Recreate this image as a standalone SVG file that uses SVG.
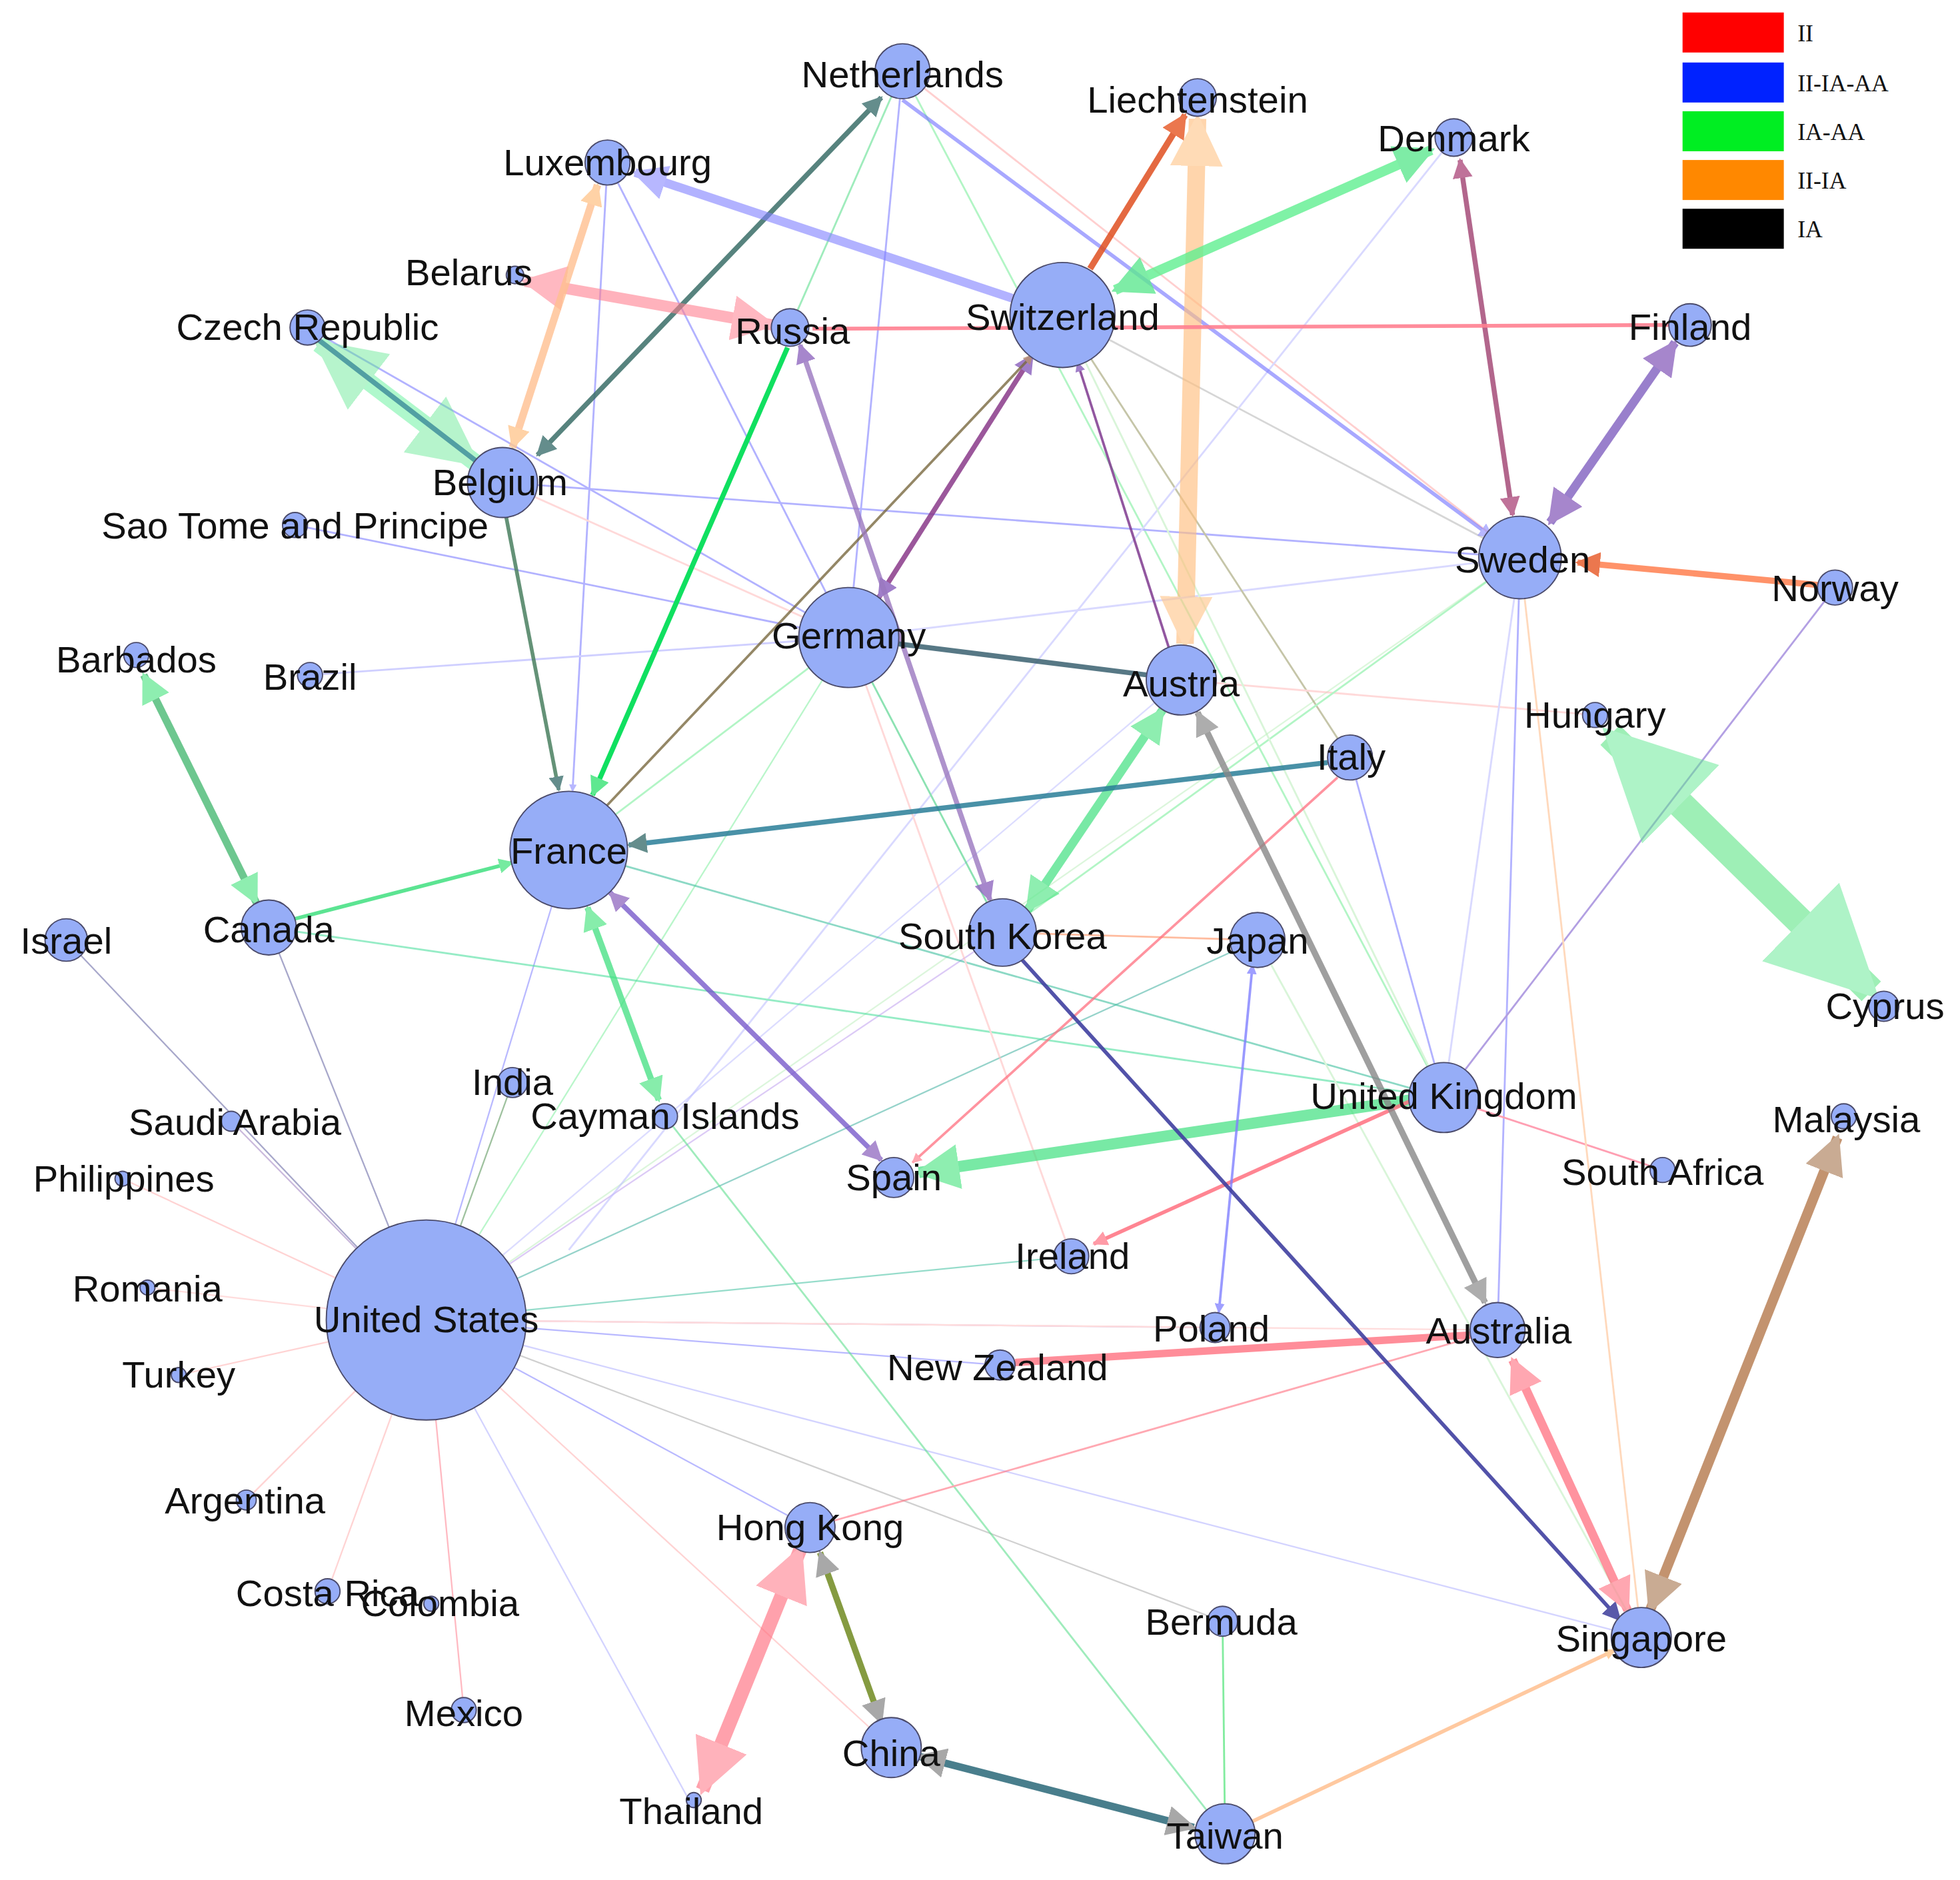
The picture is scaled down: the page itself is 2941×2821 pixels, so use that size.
<svg xmlns="http://www.w3.org/2000/svg" width="2941" height="2821" viewBox="0 0 2941 2821">
<style>
.n{fill:#96adf7;stroke:#4a4a6a;stroke-width:1}
.t{font-family:"Liberation Sans",Arial,sans-serif;font-size:30px;fill:#111;text-anchor:middle}
.lg{font-family:"Liberation Serif",serif;font-size:19px;fill:#111}
.e{fill:none}
</style>
<defs>
<marker id="mTeal" viewBox="0 0 10 10" refX="9" refY="5" markerWidth="4" markerHeight="4" orient="auto-start-reverse"><path d="M0,0L10,5L0,10z" fill="#4a7a78"/></marker>
<marker id="mBlue" viewBox="0 0 10 10" refX="9" refY="5" markerWidth="4" markerHeight="4" orient="auto-start-reverse"><path d="M0,0L10,5L0,10z" fill="#8888ff"/></marker>
<marker id="mOr" viewBox="0 0 10 10" refX="9" refY="5" markerWidth="4" markerHeight="4" orient="auto-start-reverse"><path d="M0,0L10,5L0,10z" fill="#e86030"/></marker>
<marker id="mPe" viewBox="0 0 10 10" refX="9" refY="5" markerWidth="3" markerHeight="3" orient="auto-start-reverse"><path d="M0,0L10,5L0,10z" fill="#ffc890"/></marker>
<marker id="mGr" viewBox="0 0 10 10" refX="9" refY="5" markerWidth="4" markerHeight="4" orient="auto-start-reverse"><path d="M0,0L10,5L0,10z" fill="#5fe890"/></marker>
<marker id="mPu" viewBox="0 0 10 10" refX="9" refY="5" markerWidth="4" markerHeight="4" orient="auto-start-reverse"><path d="M0,0L10,5L0,10z" fill="#9068c0"/></marker>
<marker id="mPk" viewBox="0 0 10 10" refX="9" refY="5" markerWidth="4" markerHeight="4" orient="auto-start-reverse"><path d="M0,0L10,5L0,10z" fill="#ff8a98"/></marker>
<marker id="mBr" viewBox="0 0 10 10" refX="9" refY="5" markerWidth="4" markerHeight="4" orient="auto-start-reverse"><path d="M0,0L10,5L0,10z" fill="#b89070"/></marker>
<marker id="mGy" viewBox="0 0 10 10" refX="9" refY="5" markerWidth="4" markerHeight="4" orient="auto-start-reverse"><path d="M0,0L10,5L0,10z" fill="#999"/></marker>
<marker id="mDb" viewBox="0 0 10 10" refX="9" refY="5" markerWidth="5" markerHeight="5" orient="auto-start-reverse"><path d="M0,0L10,5L0,10z" fill="#4848a0"/></marker>
<marker id="mPr" viewBox="0 0 10 10" refX="9" refY="5" markerWidth="4" markerHeight="4" orient="auto-start-reverse"><path d="M0,0L10,5L0,10z" fill="#b05080"/></marker>
</defs>
<rect width="2941" height="2821" fill="#fff"/>
<g transform="scale(1.8757)">
<g id="connectors" class="e">
<g stroke-width="1.2" opacity="0.55">
<line x1="341" y1="1056" x2="53" y2="752" stroke="#6060a0"/>
<line x1="341" y1="1056" x2="215" y2="742" stroke="#6060a0"/>
<line x1="341" y1="1056" x2="410" y2="866" stroke="#509050"/>
<line x1="341" y1="1056" x2="185" y2="897" stroke="#a080c0"/>
<line x1="341" y1="1056" x2="98" y2="943" stroke="#ffb0b0"/>
<line x1="341" y1="1056" x2="118" y2="1030" stroke="#ffc0c0"/>
<line x1="341" y1="1056" x2="143" y2="1100" stroke="#ffb0b0"/>
<line x1="341" y1="1056" x2="197" y2="1200" stroke="#ffb0b0"/>
<line x1="341" y1="1056" x2="262" y2="1273" stroke="#ffb0b0"/>
<line x1="341" y1="1056" x2="371" y2="1368" stroke="#ff8090"/>
<line x1="341" y1="1056" x2="555" y2="1447" stroke="#b0b0ff"/>
<line x1="341" y1="1056" x2="648" y2="1222" stroke="#8080ff"/>
<line x1="341" y1="1056" x2="713" y2="1398" stroke="#ffb0b0"/>
<line x1="341" y1="1056" x2="978" y2="1297" stroke="#aaa"/>
<line x1="341" y1="1056" x2="1313" y2="1310" stroke="#b0b0ff"/>
<line x1="341" y1="1056" x2="800" y2="1092" stroke="#8080ff"/>
<line x1="341" y1="1056" x2="972" y2="1062" stroke="#c080c0"/>
<line x1="341" y1="1056" x2="857" y2="1005" stroke="#40c0a0"/>
<line x1="341" y1="1056" x2="1006" y2="752" stroke="#40b0a0"/>
<line x1="341" y1="1056" x2="802" y2="746" stroke="#c0a0f0"/>
<line x1="341" y1="1056" x2="679" y2="510" stroke="#80f0a0"/>
<line x1="341" y1="1056" x2="945" y2="544" stroke="#c0c0ff"/>
<line x1="341" y1="1056" x2="1216" y2="446" stroke="#c0f0c0"/>
<line x1="341" y1="1056" x2="455" y2="680" stroke="#8080ff"/>
<line x1="341" y1="1056" x2="1198" y2="1064" stroke="#ffc0c0"/>
</g>
<g stroke-width="1.5" opacity="0.6">
<line x1="486" y1="130" x2="458" y2="633" stroke="#8080ff" marker-end="url(#mBlue)"/>
<line x1="486" y1="130" x2="679" y2="510" stroke="#8080ff"/>
<line x1="722" y1="57" x2="679" y2="510" stroke="#8080ff"/>
<line x1="722" y1="57" x2="632" y2="262" stroke="#60e090"/>
<line x1="722" y1="57" x2="1216" y2="446" stroke="#ffb0b0"/>
<line x1="722" y1="57" x2="1155" y2="878" stroke="#80f0a0"/>
<line x1="246" y1="262" x2="679" y2="510" stroke="#8080ff"/>
<line x1="236" y1="420" x2="679" y2="510" stroke="#8080ff"/>
<line x1="248" y1="540" x2="679" y2="510" stroke="#b0b0ff"/>
<line x1="402" y1="386" x2="1216" y2="446" stroke="#8080ff"/>
<line x1="679" y1="510" x2="1216" y2="446" stroke="#c0c0ff"/>
<line x1="850" y1="252" x2="1216" y2="446" stroke="#bbb"/>
<line x1="850" y1="252" x2="1080" y2="606" stroke="#a0a070"/>
<line x1="1163" y1="110" x2="455" y2="1000" stroke="#c0c0ff"/>
<line x1="402" y1="386" x2="679" y2="510" stroke="#ffc0c0"/>
<line x1="945" y1="544" x2="1276" y2="572" stroke="#ffc0c0"/>
<line x1="215" y1="742" x2="1155" y2="878" stroke="#50e0a0"/>
<line x1="455" y1="680" x2="1155" y2="878" stroke="#40c0a0"/>
<line x1="802" y1="746" x2="1006" y2="752" stroke="#ff9060"/>
<line x1="1216" y1="446" x2="1198" y2="1064" stroke="#8080ff" marker-end="url(#mBlue)"/>
<line x1="1216" y1="446" x2="1155" y2="878" stroke="#c0c0ff"/>
<line x1="1216" y1="446" x2="802" y2="746" stroke="#80f0a0"/>
<line x1="1155" y1="878" x2="1468" y2="470" stroke="#8060d0"/>
<line x1="1155" y1="878" x2="1330" y2="936" stroke="#ff6080"/>
<line x1="1080" y1="606" x2="1155" y2="878" stroke="#8080ff"/>
<line x1="532" y1="893" x2="980" y2="1467" stroke="#60e090"/>
<line x1="978" y1="1297" x2="980" y2="1467" stroke="#30e060" marker-start="url(#mGr)"/>
<line x1="1006" y1="752" x2="1313" y2="1310" stroke="#c0f0c0"/>
<line x1="1216" y1="446" x2="1313" y2="1310" stroke="#ffc090"/>
<line x1="648" y1="1222" x2="1198" y2="1064" stroke="#ff7080"/>
<line x1="679" y1="510" x2="857" y2="1005" stroke="#ffc0c0"/>
<line x1="679" y1="510" x2="802" y2="746" stroke="#40d080"/>
<line x1="679" y1="510" x2="455" y2="680" stroke="#80f0a0"/>
<line x1="850" y1="252" x2="1155" y2="878" stroke="#c0f0c0"/>
</g>
<line x1="430" y1="364" x2="705" y2="78" stroke="#3a6e68" stroke-width="4" opacity="0.85" marker-start="url(#mTeal)" marker-end="url(#mTeal)"/>
<line x1="850" y1="252" x2="508" y2="138" stroke="#8080ff" stroke-width="7" opacity="0.6" marker-end="url(#mBlue)"/>
<line x1="722" y1="80" x2="1194" y2="430" stroke="#7070ff" stroke-width="3" opacity="0.6" marker-end="url(#mBlue)"/>
<line x1="872" y1="215" x2="948" y2="92" stroke="#e05020" stroke-width="5" opacity="0.85" marker-end="url(#mOr)"/>
<line x1="948" y1="515" x2="958" y2="95" stroke="#ffc080" stroke-width="14" opacity="0.65" marker-start="url(#mPe)" marker-end="url(#mPe)"/>
<line x1="892" y1="232" x2="1145" y2="120" stroke="#60f090" stroke-width="8" opacity="0.8" marker-start="url(#mGr)" marker-end="url(#mGr)"/>
<line x1="1168" y1="128" x2="1210" y2="412" stroke="#a04070" stroke-width="4" opacity="0.8" marker-start="url(#mPr)" marker-end="url(#mPr)"/>
<line x1="1340" y1="274" x2="1240" y2="418" stroke="#8060c0" stroke-width="7" opacity="0.8" marker-start="url(#mPu)" marker-end="url(#mPu)"/>
<line x1="650" y1="263" x2="1335" y2="260" stroke="#ff8090" stroke-width="3" opacity="0.9"/>
<line x1="420" y1="225" x2="618" y2="260" stroke="#ff8090" stroke-width="9" opacity="0.6" marker-start="url(#mPk)" marker-end="url(#mPk)"/>
<line x1="478" y1="148" x2="410" y2="358" stroke="#ffc090" stroke-width="6" opacity="0.8" marker-start="url(#mPe)" marker-end="url(#mPe)"/>
<line x1="255" y1="275" x2="380" y2="370" stroke="#50f090" stroke-width="14" opacity="0.45" marker-start="url(#mGr)" marker-end="url(#mGr)"/>
<line x1="255" y1="272" x2="385" y2="372" stroke="#3a8a98" stroke-width="4" opacity="0.8"/>
<line x1="405" y1="414" x2="447" y2="632" stroke="#4a8060" stroke-width="3" opacity="0.85" marker-end="url(#mTeal)"/>
<line x1="630" y1="278" x2="474" y2="636" stroke="#10e060" stroke-width="4" marker-end="url(#mGr)"/>
<line x1="703" y1="478" x2="826" y2="284" stroke="#8a3a8a" stroke-width="4" opacity="0.85" marker-start="url(#mPu)" marker-end="url(#mPu)"/>
<line x1="485" y1="645" x2="826" y2="284" stroke="#7a6a40" stroke-width="2" opacity="0.8" marker-end="url(#mBr)"/>
<line x1="640" y1="276" x2="792" y2="720" stroke="#9a78c0" stroke-width="4" opacity="0.8" marker-start="url(#mPu)" marker-end="url(#mPu)"/>
<line x1="935" y1="518" x2="862" y2="290" stroke="#803a90" stroke-width="2" opacity="0.85" marker-end="url(#mPu)"/>
<line x1="718" y1="515" x2="918" y2="540" stroke="#3a6070" stroke-width="4" opacity="0.85"/>
<line x1="822" y1="728" x2="930" y2="568" stroke="#40e080" stroke-width="7" opacity="0.7" marker-start="url(#mGr)" marker-end="url(#mGr)"/>
<line x1="1062" y1="610" x2="503" y2="676" stroke="#2a7e98" stroke-width="4" opacity="0.85" marker-end="url(#mTeal)"/>
<line x1="115" y1="540" x2="205" y2="722" stroke="#30b060" stroke-width="6" opacity="0.7" marker-start="url(#mGr)" marker-end="url(#mGr)"/>
<line x1="236" y1="735" x2="410" y2="690" stroke="#40e080" stroke-width="3" opacity="0.85" marker-end="url(#mGr)"/>
<line x1="470" y1="726" x2="527" y2="880" stroke="#40e080" stroke-width="5" opacity="0.75" marker-start="url(#mGr)" marker-end="url(#mGr)"/>
<line x1="488" y1="714" x2="705" y2="928" stroke="#7050c8" stroke-width="4" opacity="0.75" marker-start="url(#mPu)" marker-end="url(#mPu)"/>
<line x1="1128" y1="880" x2="735" y2="938" stroke="#40e080" stroke-width="9" opacity="0.7" marker-end="url(#mGr)"/>
<line x1="1288" y1="588" x2="1497" y2="793" stroke="#40e070" stroke-width="22" opacity="0.5" marker-start="url(#mGr)" marker-end="url(#mGr)"/>
<line x1="1455" y1="468" x2="1262" y2="450" stroke="#ff8050" stroke-width="5" opacity="0.85" marker-end="url(#mOr)"/>
<line x1="1130" y1="880" x2="875" y2="995" stroke="#ff7080" stroke-width="3" opacity="0.85" marker-end="url(#mPk)"/>
<line x1="1070" y1="622" x2="730" y2="930" stroke="#ff7080" stroke-width="2" opacity="0.75" marker-end="url(#mPk)"/>
<line x1="1002" y1="772" x2="975" y2="1050" stroke="#8080ff" stroke-width="2" opacity="0.8" marker-start="url(#mBlue)" marker-end="url(#mBlue)"/>
<line x1="812" y1="1090" x2="1176" y2="1068" stroke="#ff7080" stroke-width="6" opacity="0.8"/>
<line x1="958" y1="570" x2="1188" y2="1042" stroke="#888" stroke-width="5" opacity="0.8" marker-start="url(#mGy)" marker-end="url(#mGy)"/>
<line x1="815" y1="765" x2="1296" y2="1296" stroke="#4040a0" stroke-width="3" opacity="0.9" marker-end="url(#mDb)"/>
<line x1="1210" y1="1088" x2="1302" y2="1288" stroke="#ff7080" stroke-width="7" opacity="0.75" marker-start="url(#mPk)" marker-end="url(#mPk)"/>
<line x1="1320" y1="1288" x2="1470" y2="910" stroke="#b07040" stroke-width="8" opacity="0.75" marker-start="url(#mBr)" marker-end="url(#mBr)"/>
<line x1="640" y1="1240" x2="562" y2="1432" stroke="#ff7080" stroke-width="11" opacity="0.65" marker-start="url(#mPk)" marker-end="url(#mPk)"/>
<line x1="656" y1="1242" x2="705" y2="1378" stroke="#708a20" stroke-width="5" opacity="0.85" marker-start="url(#mGy)" marker-end="url(#mGy)"/>
<line x1="735" y1="1405" x2="955" y2="1462" stroke="#2a6878" stroke-width="6" opacity="0.85" marker-start="url(#mGy)" marker-end="url(#mGy)"/>
<line x1="1000" y1="1458" x2="1292" y2="1320" stroke="#ffc090" stroke-width="3" opacity="0.85" marker-end="url(#mPe)"/>
</g>
<g id="nodes">
<g id="n-netherlands"><circle class="n" cx="722" cy="57" r="22"/><text class="t" x="722" y="70">Netherlands</text></g>
<g id="n-liechtenstein"><circle class="n" cx="958" cy="78" r="15"/><text class="t" x="958" y="90">Liechtenstein</text></g>
<g id="n-denmark"><circle class="n" cx="1163" cy="110" r="15"/><text class="t" x="1163" y="121">Denmark</text></g>
<g id="n-luxembourg"><circle class="n" cx="486" cy="130" r="18"/><text class="t" x="486" y="140">Luxembourg</text></g>
<g id="n-belarus"><circle class="n" cx="412" cy="220" r="7"/><text class="t" x="375" y="228">Belarus</text></g>
<g id="n-russia"><circle class="n" cx="632" cy="262" r="15"/><text class="t" x="634" y="275">Russia</text></g>
<g id="n-switzerland"><circle class="n" cx="850" cy="252" r="42"/><text class="t" x="850" y="264">Switzerland</text></g>
<g id="n-finland"><circle class="n" cx="1352" cy="260" r="17"/><text class="t" x="1352" y="272">Finland</text></g>
<g id="n-czech"><circle class="n" cx="246" cy="262" r="14"/><text class="t" x="246" y="272">Czech Republic</text></g>
<g id="n-belgium"><circle class="n" cx="402" cy="386" r="28"/><text class="t" x="400" y="396">Belgium</text></g>
<g id="n-saotome"><circle class="n" cx="236" cy="420" r="10"/><text class="t" x="236" y="431">Sao Tome and Principe</text></g>
<g id="n-sweden"><circle class="n" cx="1216" cy="446" r="33"/><text class="t" x="1218" y="458">Sweden</text></g>
<g id="n-norway"><circle class="n" cx="1468" cy="470" r="14"/><text class="t" x="1468" y="481">Norway</text></g>
<g id="n-germany"><circle class="n" cx="679" cy="510" r="40"/><text class="t" x="679" y="519">Germany</text></g>
<g id="n-austria"><circle class="n" cx="945" cy="544" r="28"/><text class="t" x="945" y="557">Austria</text></g>
<g id="n-barbados"><circle class="n" cx="109" cy="524" r="10"/><text class="t" x="109" y="538">Barbados</text></g>
<g id="n-brazil"><circle class="n" cx="248" cy="540" r="10"/><text class="t" x="248" y="552">Brazil</text></g>
<g id="n-hungary"><circle class="n" cx="1276" cy="572" r="10"/><text class="t" x="1276" y="582">Hungary</text></g>
<g id="n-italy"><circle class="n" cx="1080" cy="606" r="18"/><text class="t" x="1081" y="616">Italy</text></g>
<g id="n-france"><circle class="n" cx="455" cy="680" r="47"/><text class="t" x="455" y="691">France</text></g>
<g id="n-canada"><circle class="n" cx="215" cy="742" r="22"/><text class="t" x="215" y="754">Canada</text></g>
<g id="n-israel"><circle class="n" cx="53" cy="752" r="17"/><text class="t" x="53" y="763">Israel</text></g>
<g id="n-southkorea"><circle class="n" cx="802" cy="746" r="27"/><text class="t" x="802" y="759">South Korea</text></g>
<g id="n-japan"><circle class="n" cx="1006" cy="752" r="22"/><text class="t" x="1006" y="763">Japan</text></g>
<g id="n-cyprus"><circle class="n" cx="1507" cy="805" r="12"/><text class="t" x="1508" y="815">Cyprus</text></g>
<g id="n-india"><circle class="n" cx="410" cy="866" r="12"/><text class="t" x="410" y="876">India</text></g>
<g id="n-cayman"><circle class="n" cx="532" cy="893" r="10"/><text class="t" x="532" y="903">Cayman Islands</text></g>
<g id="n-saudi"><circle class="n" cx="185" cy="897" r="8"/><text class="t" x="188" y="908">Saudi Arabia</text></g>
<g id="n-uk"><circle class="n" cx="1155" cy="878" r="28"/><text class="t" x="1155" y="887">United Kingdom</text></g>
<g id="n-malaysia"><circle class="n" cx="1475" cy="893" r="10"/><text class="t" x="1477" y="906">Malaysia</text></g>
<g id="n-philippines"><circle class="n" cx="98" cy="943" r="6"/><text class="t" x="99" y="953">Philippines</text></g>
<g id="n-spain"><circle class="n" cx="715" cy="942" r="16"/><text class="t" x="715" y="952">Spain</text></g>
<g id="n-southafrica"><circle class="n" cx="1330" cy="936" r="10"/><text class="t" x="1330" y="948">South Africa</text></g>
<g id="n-ireland"><circle class="n" cx="857" cy="1005" r="14"/><text class="t" x="858" y="1015">Ireland</text></g>
<g id="n-romania"><circle class="n" cx="118" cy="1030" r="6"/><text class="t" x="118" y="1041">Romania</text></g>
<g id="n-us"><circle class="n" cx="341" cy="1056" r="80"/><text class="t" x="341" y="1066">United States</text></g>
<g id="n-poland"><circle class="n" cx="972" cy="1062" r="12"/><text class="t" x="969" y="1073">Poland</text></g>
<g id="n-australia"><circle class="n" cx="1198" cy="1064" r="22"/><text class="t" x="1199" y="1075">Australia</text></g>
<g id="n-newzealand"><circle class="n" cx="800" cy="1092" r="12"/><text class="t" x="798" y="1104">New Zealand</text></g>
<g id="n-turkey"><circle class="n" cx="143" cy="1100" r="6"/><text class="t" x="143" y="1110">Turkey</text></g>
<g id="n-argentina"><circle class="n" cx="197" cy="1200" r="8"/><text class="t" x="196" y="1211">Argentina</text></g>
<g id="n-hongkong"><circle class="n" cx="648" cy="1222" r="20"/><text class="t" x="648" y="1232">Hong Kong</text></g>
<g id="n-costarica"><circle class="n" cx="262" cy="1273" r="10"/><text class="t" x="262" y="1285">Costa Rica</text></g>
<g id="n-colombia"><circle class="n" cx="345" cy="1283" r="6"/><text class="t" x="352" y="1293">Colombia</text></g>
<g id="n-bermuda"><circle class="n" cx="978" cy="1297" r="12"/><text class="t" x="977" y="1308">Bermuda</text></g>
<g id="n-singapore"><circle class="n" cx="1313" cy="1310" r="24"/><text class="t" x="1313" y="1321">Singapore</text></g>
<g id="n-mexico"><circle class="n" cx="371" cy="1368" r="10"/><text class="t" x="371" y="1381">Mexico</text></g>
<g id="n-thailand"><circle class="n" cx="555" cy="1440" r="6"/><text class="t" x="553" y="1459">Thailand</text></g>
<g id="n-china"><circle class="n" cx="713" cy="1398" r="24"/><text class="t" x="713" y="1413">China</text></g>
<g id="n-taiwan"><circle class="n" cx="980" cy="1467" r="24"/><text class="t" x="980" y="1479">Taiwan</text></g>
</g>
<g id="legend">
<rect x="1346" y="10" width="81" height="32" fill="#ff0000"/><text class="lg" x="1438" y="33">II</text>
<rect x="1346" y="50" width="81" height="32" fill="#0022ff"/><text class="lg" x="1438" y="73">II-IA-AA</text>
<rect x="1346" y="89" width="81" height="32" fill="#00ee22"/><text class="lg" x="1438" y="112">IA-AA</text>
<rect x="1346" y="128" width="81" height="32" fill="#ff8800"/><text class="lg" x="1438" y="151">II-IA</text>
<rect x="1346" y="167" width="81" height="32" fill="#000"/><text class="lg" x="1438" y="190">IA</text>
</g>
</g>
</svg>
